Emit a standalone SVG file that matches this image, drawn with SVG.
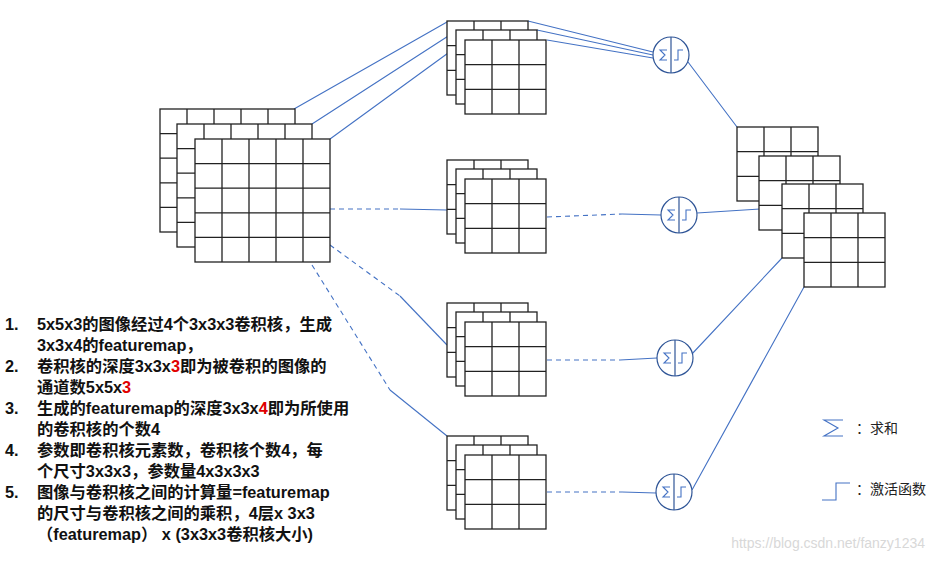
<svg xmlns="http://www.w3.org/2000/svg" width="935" height="562" viewBox="0 0 935 562">
<style>
.g{fill:#fff;stroke:#222;stroke-width:1.3}
.c{stroke:#4472c4;stroke-width:1.1;fill:none}
.d{stroke:#4472c4;stroke-width:1.1;fill:none;stroke-dasharray:5,4}
.n{fill:#fff;stroke:#2f5597;stroke-width:1.2}
.t{font-family:"Liberation Sans","Noto Sans CJK SC",sans-serif;font-size:16.3px;font-weight:bold;fill:#111}
.r{fill:#e00000}
.l{font-family:"Liberation Sans","Noto Sans CJK SC",sans-serif;font-size:14px;fill:#222}
</style>
<defs>
<g id="g5"><rect class="g" x="0" y="0" width="135" height="123"/><path class="g" d="M27 0V123M54 0V123M81 0V123M108 0V123M0 24.6H135M0 49.2H135M0 73.8H135M0 98.4H135"/></g>
<g id="g3"><rect class="g" x="0" y="0" width="81" height="74"/><path class="g" d="M27 0V74M54 0V74M0 24.7H81M0 49.3H81"/></g>
<g id="stk"><use href="#g3"/><use href="#g3" x="9" y="9"/><use href="#g3" x="18" y="19"/></g>
<g id="sig"><circle class="n" cx="0" cy="0" r="18"/><path class="n" d="M0 -18V18"/><path class="c" d="M-4 -5H-11L-6 0L-11 5H-4M3 5H7V-5H12"/></g>
</defs>
<g id="connectors">
<path class="c" d="M294 109L447 22M312 124L456 31M330 139L466 40"/>
<path class="c" d="M528 21L653 52M537 30L653 55M547 40L653 58"/>
<path class="d" d="M330 209L400 209"/><path class="c" d="M400 209L447 210"/>
<path class="d" d="M547 217L622 214"/><path class="c" d="M622 214L661 215"/>
<path class="d" d="M330 245L400 296"/><path class="c" d="M400 296L447 345"/>
<path class="d" d="M312 265L390 390"/><path class="c" d="M390 390L447 436"/>
<path class="d" d="M547 360L620 360"/><path class="c" d="M620 360L657 358"/>
<path class="d" d="M547 492L622 492"/><path class="c" d="M622 492L656 493"/>
<path class="c" d="M688 62L737 127M697 213L760 209M691 355L782 258M692 490L804 287"/>
</g>
<g id="input"><use href="#g5" x="160" y="109"/><use href="#g5" x="177" y="124"/><use href="#g5" x="195" y="139"/></g>
<g id="k1"><use href="#stk" x="447" y="21"/></g>
<g id="k2"><use href="#stk" x="447" y="160"/></g>
<g id="k3"><use href="#stk" x="447" y="303"/></g>
<g id="k4"><use href="#stk" x="447" y="436"/></g>
<g id="s1"><use href="#sig" x="671" y="55"/></g>
<g id="s2"><use href="#sig" x="679" y="215"/></g>
<g id="s3"><use href="#sig" x="675" y="358"/></g>
<g id="s4"><use href="#sig" x="674" y="492"/></g>
<g id="output"><use href="#g3" x="737" y="127"/><use href="#g3" x="759" y="156"/><use href="#g3" x="782" y="184"/><use href="#g3" x="804" y="213"/></g>
<g id="legend">
<path class="c" d="M843 420H824L838 428L824 436H843"/>
<text class="l" x="856" y="433">：求和</text>
<path class="c" d="M822 500H836V483H850"/>
<text class="l" x="856" y="494">：激活函数</text>
</g>
<g id="notes" class="t">
<text x="5" y="330">1.</text><text x="37" y="330">5x5x3的图像经过4个3x3x3卷积核，生成</text>
<text x="37" y="351">3x3x4的featuremap，</text>
<text x="5" y="372">2.</text><text x="37" y="372">卷积核的深度3x3x<tspan class="r">3</tspan>即为被卷积的图像的</text>
<text x="37" y="393">通道数5x5x<tspan class="r">3</tspan></text>
<text x="5" y="414">3.</text><text x="37" y="414">生成的featuremap的深度3x3x<tspan class="r">4</tspan>即为所使用</text>
<text x="37" y="435">的卷积核的个数4</text>
<text x="5" y="456">4.</text><text x="37" y="456">参数即卷积核元素数，卷积核个数4，每</text>
<text x="37" y="477">个尺寸3x3x3，参数量4x3x3x3</text>
<text x="5" y="498">5.</text><text x="37" y="498">图像与卷积核之间的计算量=featuremap</text>
<text x="37" y="519">的尺寸与卷积核之间的乘积，4层x  3x3</text>
<text x="37" y="540">（featuremap）  x (3x3x3卷积核大小)</text>
</g>
<text x="925" y="548" text-anchor="end" style="font-family:'Liberation Sans',sans-serif;font-size:14px;fill:#d8d8d8">https://blog.csdn.net/fanzy1234</text>
</svg>
